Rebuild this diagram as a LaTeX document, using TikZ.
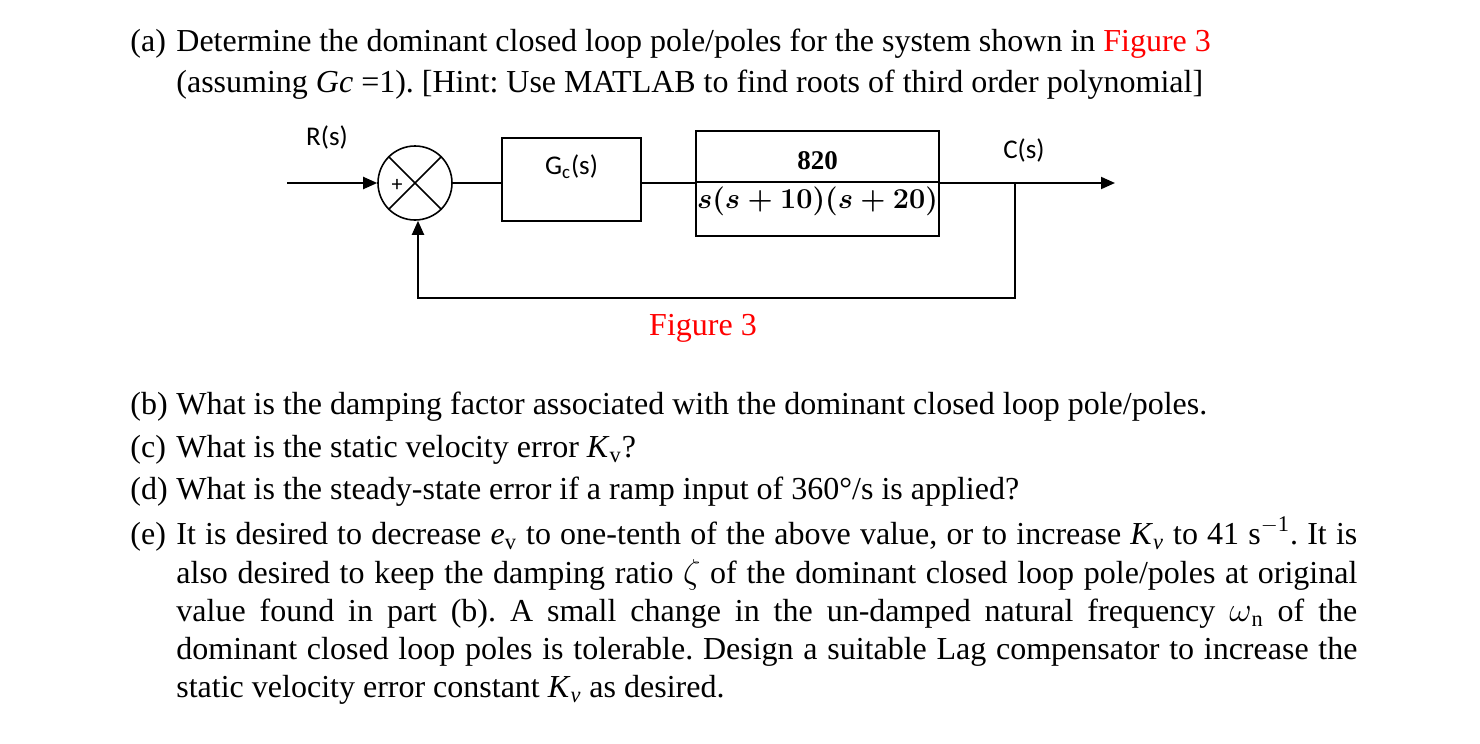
\documentclass[tikz,border=0pt]{standalone}
\usepackage{amsmath}
\usepackage{fontspec}
\setmainfont{Liberation Serif}
\newfontfamily\diag{Carlito}
\usetikzlibrary{arrows.meta}
\frenchspacing
\begin{document}
\begin{tikzpicture}[x=0.5pt,y=-0.5pt,
  txt/.style={anchor=base west,inner sep=0pt,font=\fontsize{16pt}{19pt}\selectfont},
  lbl/.style={anchor=base west,inner sep=0pt,font=\fontsize{16pt}{19pt}\selectfont},
  dl/.style={inner sep=0pt,font=\diag\fontsize{13.5pt}{16pt}\selectfont},
  blk/.style={draw,line width=0.8pt},
  ln/.style={line width=1pt},
  arr/.style={ln,-{Triangle[length=7pt,width=6pt]}}]
\useasboundingbox (0,0) rectangle (1480,744);
\def\W{590.5pt}
% (a)
\node[lbl] (la) at (130,51) {(a)};
\node[txt] (ta1) at (176,51) {Determine the dominant closed loop pole/poles for the system shown in \textcolor{red}{Figure 3}};
\node[txt] (ta2) at (176,92) {(assuming \textit{Gc} =1). [Hint: Use MATLAB to find roots of third order polynomial]};
% diagram
\node[draw,circle,minimum size=37pt,inner sep=0pt,line width=0.8pt] (sum) at (415,183) {};
\draw[line width=0.8pt] (sum.north west) -- (sum.south east) (sum.north east) -- (sum.south west);
\node[dl,font=\diag\fontsize{11pt}{12pt}\selectfont] (plus) at (397,185) {+};
\node[blk,minimum width=69.5pt,minimum height=41.5pt] (gc) at (571.5,179.5) {};
\node[dl] (gct) at (571.5,167) {G\textsubscript{c}(s)};
\node[blk,minimum width=121.5pt,minimum height=52.5pt] (gp) at (817.5,183.5) {};
\node[inner sep=0pt,font=\fontsize{13.5pt}{16pt}\selectfont\bfseries] (gpt) at (817.5,184) {$\displaystyle\frac{\mathbf{820}}{\boldsymbol{s(s+10)(s+20)}}$};
\coordinate (in) at (287,183);
\coordinate (br) at (1015,183);
\coordinate (out) at (1115,183);
\coordinate (c1) at (1015,298);
\coordinate (c2) at (418,298);
\draw[arr] (in) -- (sum.west);
\draw[ln] (sum.east) -- (sum.east -| gc.west);
\draw[ln] (gc.east |- sum.east) -- (gp.west |- sum.east);
\draw[arr] (gp.east |- sum.east) -- (out);
\draw[arr] (br) -- (c1) -- (c2) -- (sum.south -| c2);
\node[dl] (rs) at (327,137) {R(s)};
\node[dl] (cs) at (1024,150) {C(s)};
\node[txt,anchor=base,text=red] (fig) at (703,335) {Figure 3};
% (b)-(e)
\node[lbl] (lb) at (130,414) {(b)};
\node[txt] (tb) at (176,414) {What is the damping factor associated with the dominant closed loop pole/poles.};
\node[lbl] (lc) at (130,457) {(c)};
\node[txt] (tc) at (176,457) {What is the static velocity error \textit{K}\textsubscript{v}?};
\node[lbl] (ld) at (130,499) {(d)};
\node[txt] (td) at (176,499) {What is the steady-state error if a ramp input of 360°/s is applied?};
\node[lbl] (le) at (130,544) {(e)};
\node[txt] (te1) at (176,544) {\makebox[\W][s]{It is desired to decrease \textit{e}\textsubscript{v} to one-tenth of the above value, or to increase \textit{K}\textsubscript{\textit{v}} to 41 s\textsuperscript{$-$1}. It is}};
\node[txt] (te2) at (176,583) {\makebox[\W][s]{also desired to keep the damping ratio $\zeta$ of the dominant closed loop pole/poles at original}};
\node[txt] (te3) at (176,621) {\makebox[\W][s]{value found in part (b). A small change in the un-damped natural frequency $\omega$\textsubscript{n} of the}};
\node[txt] (te4) at (176,659) {\makebox[\W][s]{dominant closed loop poles is tolerable. Design a suitable Lag compensator to increase the}};
\node[txt] (te5) at (176,697) {static velocity error constant \textit{K}\textsubscript{\textit{v}} as desired.};
\end{tikzpicture}
\end{document}
